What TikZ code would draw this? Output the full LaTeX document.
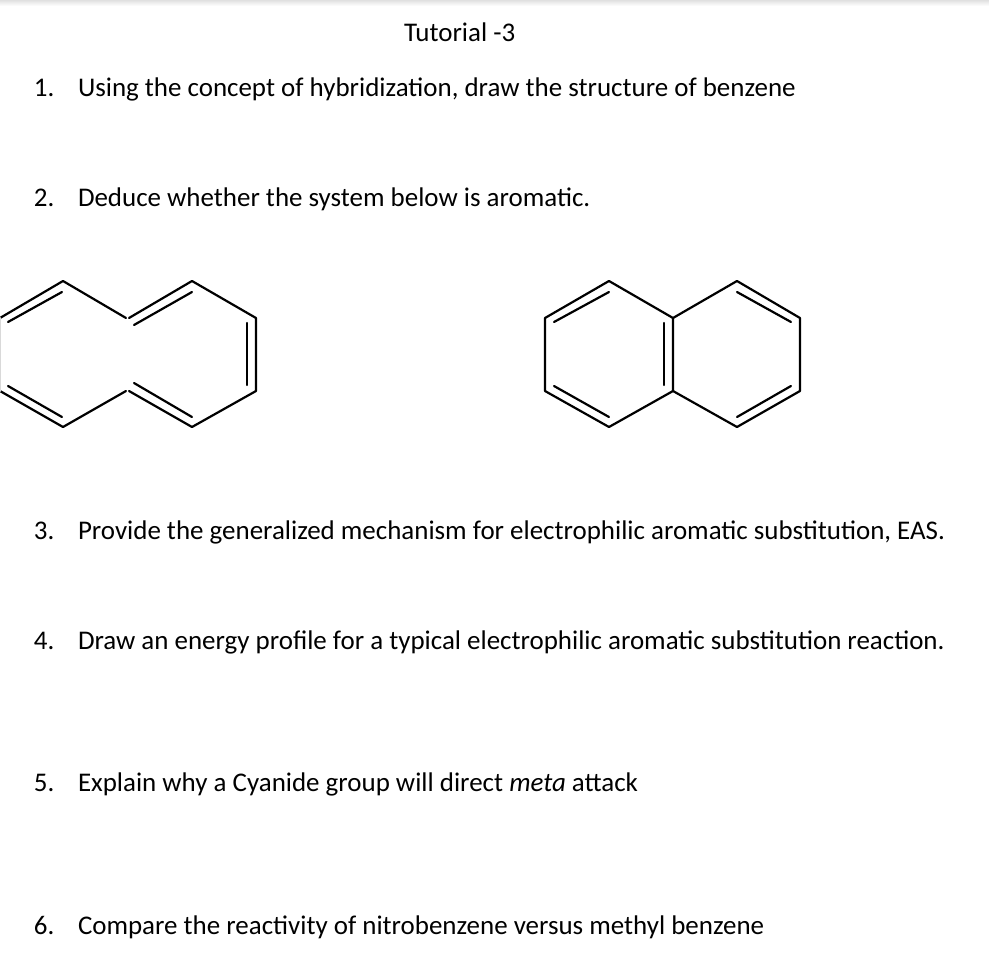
\documentclass[tikz,border=0pt]{standalone}
\usepackage{fontspec}
\setmainfont{Carlito}
\usetikzlibrary{calc,positioning}
\tikzset{txt/.style={anchor=base west,inner sep=0pt,outer sep=0pt,font=\fontsize{26.95}{30}\selectfont,text=black},
bond/.style={line width=2.2pt,line cap=round,line join=round,black}}

\begin{document}
\begin{tikzpicture}[x=1pt,y=-1pt]
		\useasboundingbox (0,0) rectangle (989,969);
		\shade[top color=black!12,bottom color=white] (0,0) rectangle (989,6);
		\node[txt] (title) at (404,41.7) {Tutorial -3};
		\foreach \y/\t[count=\i] in {
				96.4/{Using the concept of hybridization, draw the structure of benzene},
				206.4/{Deduce whether the system below is aromatic.},
				539/{Provide the generalized mechanism for electrophilic aromatic substitution, EAS.},
				649/{Draw an energy profile for a typical electrophilic aromatic substitution reaction.},
				791/{Explain why a Cyanide group will direct \emph{meta} attack},
				934/{Compare the reactivity of nitrobenzene versus methyl benzene}
			}
		\node[txt] (n\i) at (34,\y) {\i.}
		node[txt] (q\i) at (78,\y) {\t};
		% left molecule
		\foreach \n/\x/\y in {a/0/318,b/63/281,c/126/318,d/129/318,e/192/281,f/256/318,g/256/391,h/192/427,i/129/391,j/126/391,k/63/427,l/0/391}
		\coordinate (\n) at (\x,\y);
		\foreach \n/\x/\y in {a1/8/322,b1/62/292,d1/134/325,e1/192/292,f1/247/323,g1/247/385,h1/192/417,i1/134/383,k1/62/417,l1/8/386}
		\coordinate (\n) at (\x,\y);
		\draw[bond] (a)--(b)--(c) (d)--(e)--(f)--(g)--(h)--(i) (j)--(k)--(l);
		\draw[bond,black!15] (a)--(l);
		\foreach \p/\q in {a1/b1,d1/e1,f1/g1,h1/i1,k1/l1}
		\draw[bond] (\p)--(\q);
		% right molecule
		\foreach \n/\x/\y in {m/545/318,o/609/281,p/673/318,r/737/281,s/800/318,t/800/391,u/737/427,v/673/391,w/609/427,z/545/391}
		\coordinate (\n) at (\x,\y);
		\foreach \n/\x/\y in {m1/554/322,o1/609/292,p1/664/323,v1/664/385,r1/737/292,s1/791/322,t1/791/386,u1/737/417,w1/609/417,z1/554/386}
		\coordinate (\n) at (\x,\y);
		\draw[bond] (m)--(o)--(p)--(r)--(s)--(t)--(u)--(v)--(w)--(z)--cycle (p)--(v);
		\foreach \p/\q in {m1/o1,p1/v1,r1/s1,t1/u1,w1/z1}
		\draw[bond] (\p)--(\q);
	\end{tikzpicture}
\end{document}
